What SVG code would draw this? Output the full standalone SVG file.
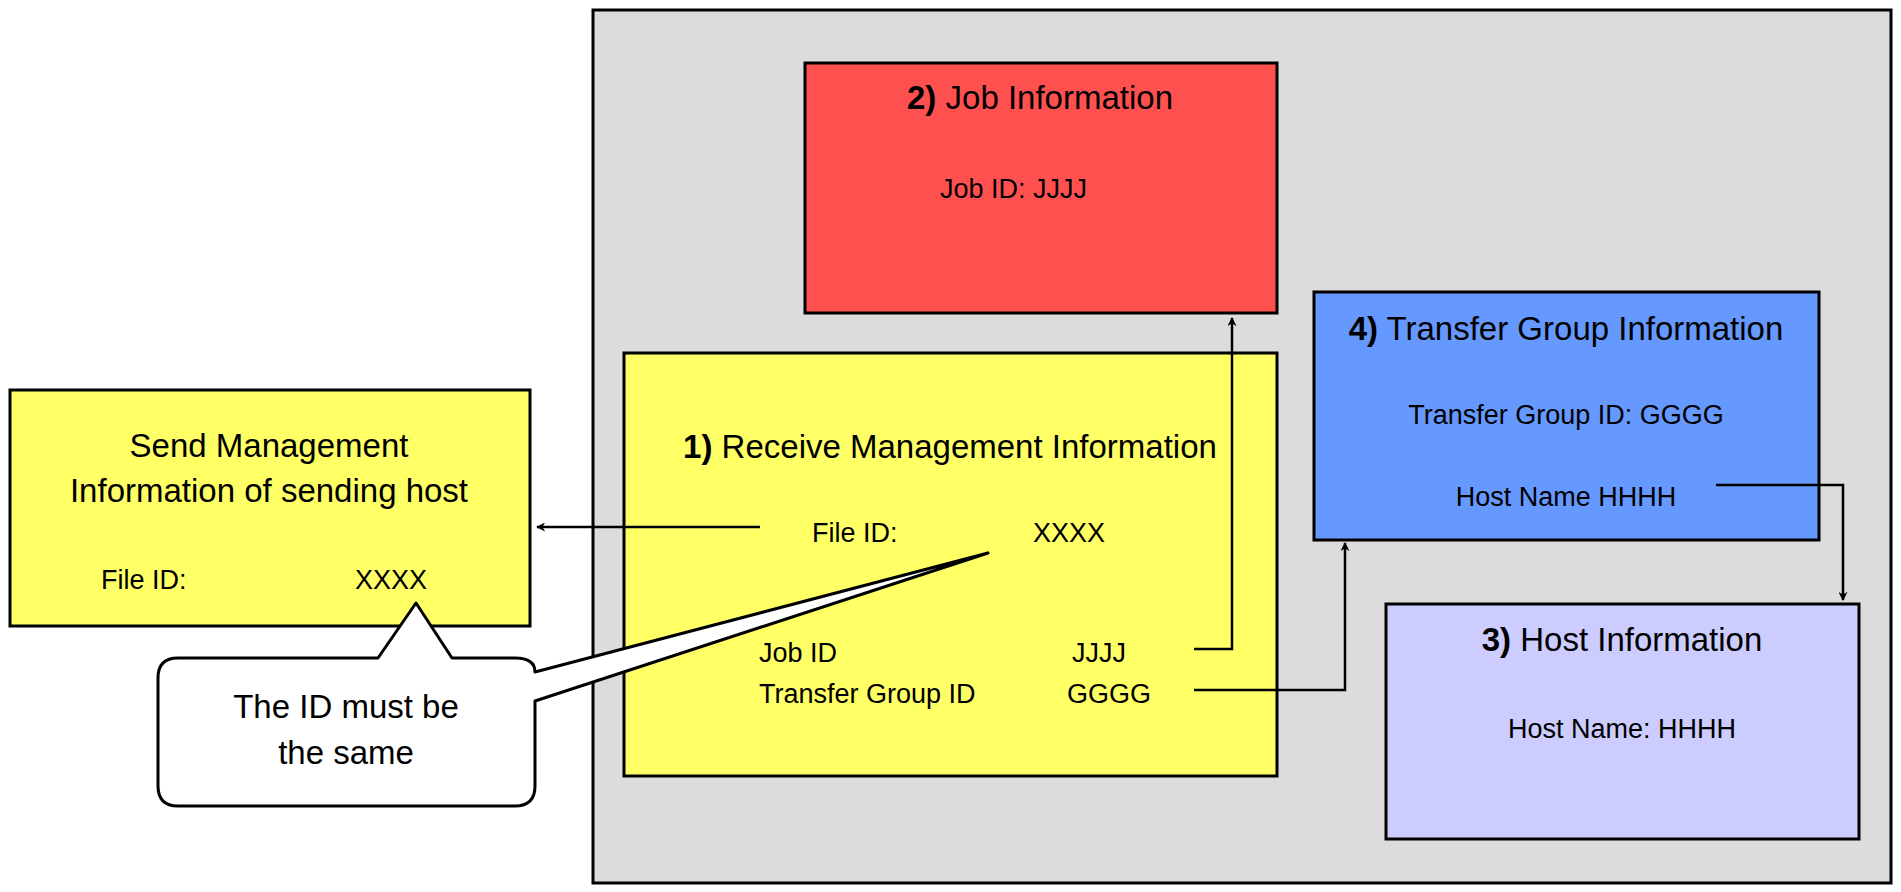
<svg xmlns="http://www.w3.org/2000/svg" width="1901" height="892" viewBox="0 0 1901 892">
<style>
text{font-family:"Liberation Sans",Arial,sans-serif;fill:#000}
.box{stroke:#000;stroke-width:3}
.t{font-size:33px}
.b{font-size:27px}
.c{stroke:#000;stroke-width:2.5;fill:none}
</style>
<defs><marker id="ah" viewBox="0 0 10 10" refX="9" refY="5" markerWidth="9" markerHeight="9" markerUnits="userSpaceOnUse" orient="auto"><path d="M0,0 L10,5 L0,10 L3,5 Z" fill="#000"/></marker></defs>
<rect width="1901" height="892" fill="#fff"/>
<g id="container"><rect class="box" x="593" y="10" width="1298" height="873" fill="#dcdcdc"/></g>
<g id="job"><rect class="box" x="805" y="63" width="472" height="250" fill="#ff5050"/>
<text class="t" x="1040" y="109" text-anchor="middle"><tspan font-weight="bold">2)</tspan> Job Information</text>
<text class="b" x="940" y="198">Job ID:   JJJJ</text></g>
<g id="receive"><rect class="box" x="624" y="353" width="653" height="423" fill="#ffff66"/>
<text class="t" x="950" y="458" text-anchor="middle"><tspan font-weight="bold">1)</tspan> Receive Management Information</text>
<text class="b" x="812" y="542">File ID:</text><text class="b" x="1033" y="542">XXXX</text>
<text class="b" x="759" y="662">Job ID</text><text class="b" x="1072" y="662">JJJJ</text>
<text class="b" x="759" y="703">Transfer Group ID</text><text class="b" x="1067" y="703">GGGG</text></g>
<g id="transfer"><rect class="box" x="1314" y="292" width="505" height="248" fill="#6699ff"/>
<text class="t" x="1566" y="340" text-anchor="middle"><tspan font-weight="bold">4)</tspan> Transfer Group Information</text>
<text class="b" x="1566" y="424" text-anchor="middle">Transfer Group ID: GGGG</text>
<text class="b" x="1566" y="506" text-anchor="middle">Host Name HHHH</text></g>
<g id="host"><rect class="box" x="1386" y="604" width="473" height="235" fill="#ccccff"/>
<text class="t" x="1622" y="651" text-anchor="middle"><tspan font-weight="bold">3)</tspan> Host Information</text>
<text class="b" x="1622" y="738" text-anchor="middle">Host Name:    HHHH</text></g>
<g id="send"><rect class="box" x="10" y="390" width="520" height="236" fill="#ffff66"/>
<text class="t" x="269" y="457" text-anchor="middle" font-size="32">Send Management</text>
<text class="t" x="269" y="502" text-anchor="middle" font-size="32">Information of sending host</text>
<text class="b" x="101" y="589">File ID:</text><text class="b" x="355" y="589">XXXX</text></g>
<g id="connectors">
<path class="c" d="M760,527 L537,527" marker-end="url(#ah)"/>
<path class="c" d="M1194,649 L1232,649 L1232,318" marker-end="url(#ah)"/>
<path class="c" d="M1194,690 L1345,690 L1345,543" marker-end="url(#ah)"/>
<path class="c" d="M1716,485 L1843,485 L1843,600" marker-end="url(#ah)"/>
</g>
<g id="callout"><path d="M182,658 L378,658 L416,603 L452,658 L515,658 Q535,658 535,672 L988,553 L535,701 L535,786 Q535,806 515,806 L178,806 Q158,806 158,786 L158,678 Q158,658 178,658 Z" fill="#fff" stroke="#000" stroke-width="3" stroke-linejoin="round"/>
<text class="t" x="346" y="718" text-anchor="middle" font-size="32">The ID must be</text>
<text class="t" x="346" y="764" text-anchor="middle" font-size="32">the same</text></g>
</svg>
